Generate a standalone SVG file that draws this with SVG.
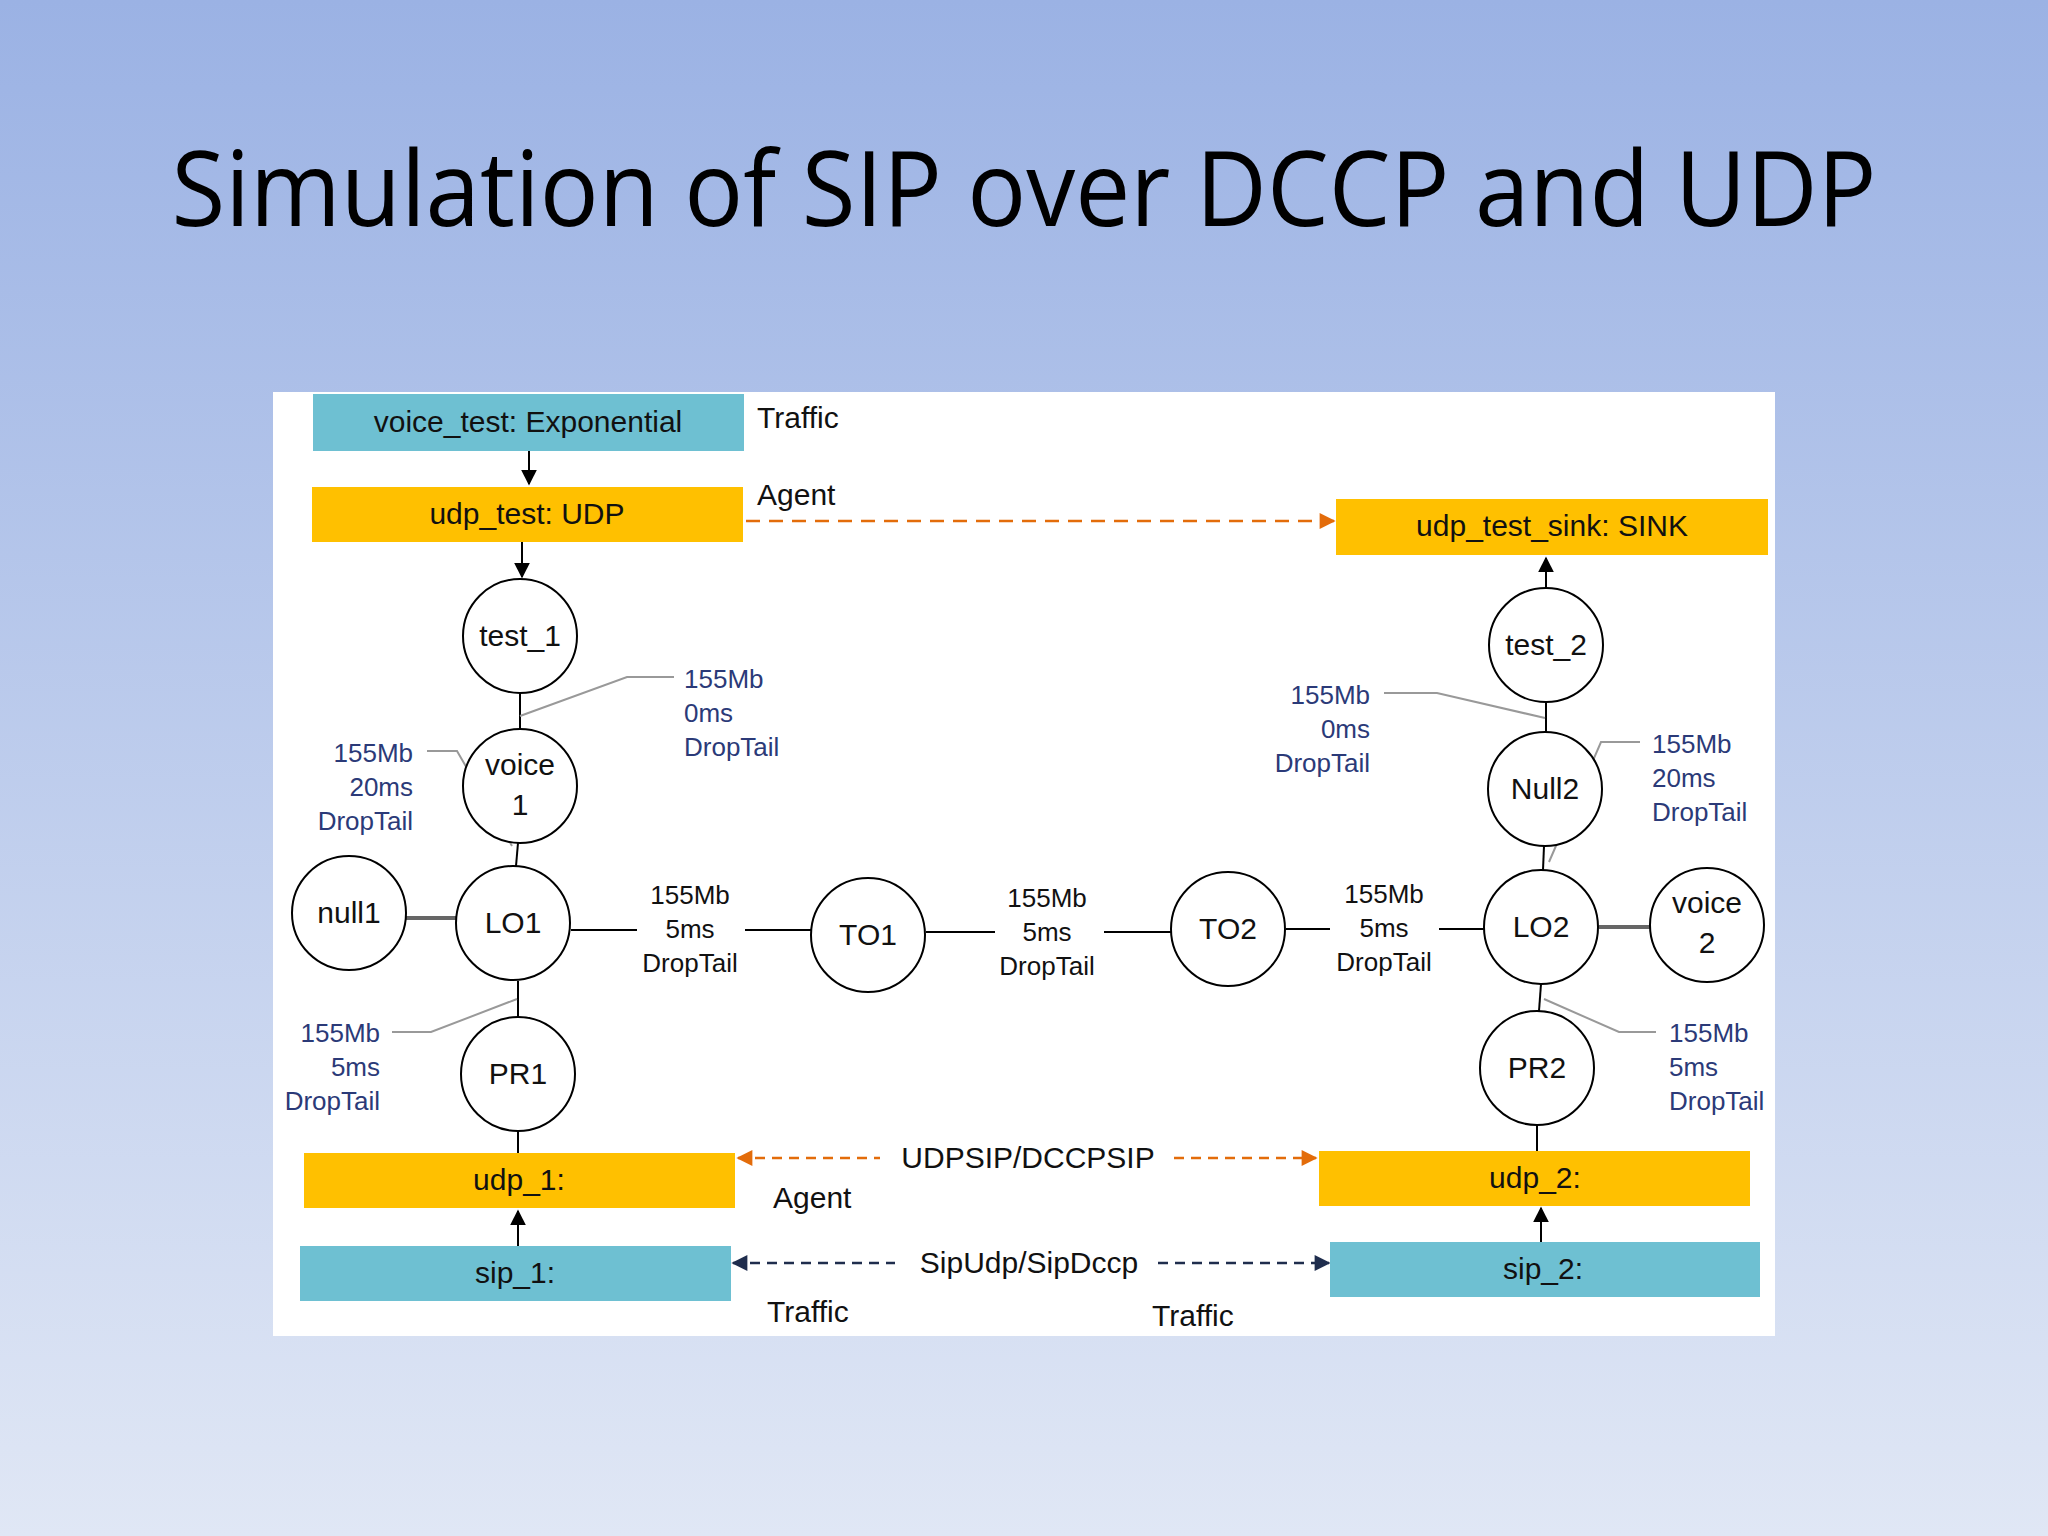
<svg xmlns="http://www.w3.org/2000/svg" width="2048" height="1536" viewBox="0 0 2048 1536">
<defs>
<linearGradient id="bg" x1="0" y1="0" x2="0" y2="1"><stop offset="0" stop-color="#9bb2e4"/><stop offset="1" stop-color="#e0e7f5"/></linearGradient>
<marker id="ab" viewBox="0 0 10 10" refX="9" refY="5" markerWidth="6" markerHeight="7" orient="auto-start-reverse" markerUnits="userSpaceOnUse" style="overflow:visible"><path d="M0,0 L10,5 L0,10 z" fill="#000" transform="scale(1.6)"/></marker>
<marker id="ao" viewBox="0 0 10 10" refX="9" refY="5" markerWidth="22" markerHeight="16" orient="auto-start-reverse" markerUnits="userSpaceOnUse"><path d="M0,0 L10,5 L0,10 z" fill="#e36c0a"/></marker>
<marker id="an" viewBox="0 0 10 10" refX="9" refY="5" markerWidth="22" markerHeight="16" orient="auto-start-reverse" markerUnits="userSpaceOnUse"><path d="M0,0 L10,5 L0,10 z" fill="#1f2d4d"/></marker>
<marker id="ak" viewBox="0 0 10 10" refX="9" refY="5" markerWidth="16" markerHeight="22" orient="auto-start-reverse" markerUnits="userSpaceOnUse"><path d="M0,0 L10,5 L0,10 z" fill="#000"/></marker>
</defs>
<style>
text{font-family:"Liberation Sans",Arial,sans-serif}
.n{fill:#fff;stroke:#000;stroke-width:2}
.nt{font-size:30px;text-anchor:middle;fill:#111}
.bt{font-size:30px;text-anchor:middle;fill:#111}
.lt{font-size:30px;fill:#111}
.bl{font-size:26px;fill:#2b3a78}
.r{text-anchor:end}
.m{text-anchor:middle;fill:#111}
.teal{fill:#6ec0d2}
.org{fill:#ffc000}
.ln{stroke:#000;stroke-width:2;fill:none}
.gl{stroke:#666;stroke-width:4;fill:none}
.ld{stroke:#999;stroke-width:2;fill:none}
</style>
<rect width="2048" height="1536" fill="url(#bg)"/>
<text x="1024" y="226" font-family="'Open Sans','Noto Sans',sans-serif" style="font-family:'Open Sans','Noto Sans',sans-serif" font-size="104" text-anchor="middle" fill="#000" textLength="1705" lengthAdjust="spacingAndGlyphs">Simulation of SIP over DCCP and UDP</text>
<rect x="273" y="392" width="1502" height="944" fill="#fff"/>

<g id="connectors">
<line class="ln" x1="529" y1="451" x2="529" y2="484" marker-end="url(#ak)"/>
<line class="ln" x1="522" y1="542" x2="522" y2="577" marker-end="url(#ak)"/>
<line class="ln" x1="1546" y1="588" x2="1546" y2="558" marker-end="url(#ak)"/>
<line class="ln" x1="518" y1="1246" x2="518" y2="1211" marker-end="url(#ak)"/>
<line class="ln" x1="1541" y1="1242" x2="1541" y2="1208" marker-end="url(#ak)"/>
<line x1="746" y1="521" x2="1334" y2="521" stroke="#e36c0a" stroke-width="2.5" stroke-dasharray="14,9" marker-end="url(#ao)"/>
<line x1="738" y1="1158" x2="880" y2="1158" stroke="#e36c0a" stroke-width="2.5" stroke-dasharray="10,7" marker-start="url(#ao)"/>
<line x1="1174" y1="1158" x2="1316" y2="1158" stroke="#e36c0a" stroke-width="2.5" stroke-dasharray="10,7" marker-end="url(#ao)"/>
<line x1="733" y1="1263" x2="895" y2="1263" stroke="#1f2d4d" stroke-width="2.5" stroke-dasharray="10,7" marker-start="url(#an)"/>
<line x1="1158" y1="1263" x2="1329" y2="1263" stroke="#1f2d4d" stroke-width="2.5" stroke-dasharray="10,7" marker-end="url(#an)"/>
<line class="ln" x1="520" y1="693" x2="520" y2="729"/>
<line class="ln" x1="518" y1="843" x2="516" y2="866"/>
<line class="gl" x1="406" y1="918" x2="456" y2="918"/>
<line class="ln" x1="571" y1="930" x2="637" y2="930"/>
<line class="ln" x1="745" y1="930" x2="811" y2="930"/>
<line class="ln" x1="926" y1="932" x2="995" y2="932"/>
<line class="ln" x1="1104" y1="932" x2="1171" y2="932"/>
<line class="ln" x1="1286" y1="929" x2="1330" y2="929"/>
<line class="ln" x1="1439" y1="929" x2="1484" y2="929"/>
<line class="gl" x1="1599" y1="927" x2="1650" y2="927"/>
<line class="ln" x1="1546" y1="703" x2="1546" y2="732"/>
<line class="ln" x1="1544" y1="846" x2="1543" y2="870"/>
<line class="ln" x1="1541" y1="984" x2="1539" y2="1011"/>
<line class="ln" x1="1537" y1="1126" x2="1537" y2="1151"/>
<line class="ln" x1="518" y1="981" x2="518" y2="1017"/>
<line class="ln" x1="518" y1="1132" x2="518" y2="1153"/>
<polyline class="ld" points="520,716 627,677 674,677"/>
<polyline class="ld" points="427,751 457,751 512,846"/>
<polyline class="ld" points="392,1032 431,1032 517,999"/>
<polyline class="ld" points="1384,693 1437,693 1545,718"/>
<polyline class="ld" points="1640,742 1601,742 1549,862"/>
<polyline class="ld" points="1656,1032 1619,1032 1544,999"/>
</g>

<g id="voice_test"><rect class="teal" x="313" y="394" width="431" height="57"/><text class="bt" x="528" y="432">voice_test: Exponential</text></g>
<g id="udp_test"><rect class="org" x="312" y="487" width="431" height="55"/><text class="bt" x="527" y="524">udp_test: UDP</text></g>
<g id="udp_test_sink"><rect class="org" x="1336" y="499" width="432" height="56"/><text class="bt" x="1552" y="536">udp_test_sink: SINK</text></g>
<g id="udp_1"><rect class="org" x="304" y="1153" width="431" height="55"/><text class="bt" x="519" y="1190">udp_1:</text></g>
<g id="udp_2"><rect class="org" x="1319" y="1151" width="431" height="55"/><text class="bt" x="1535" y="1188">udp_2:</text></g>
<g id="sip_1"><rect class="teal" x="300" y="1246" width="431" height="55"/><text class="bt" x="515" y="1283">sip_1:</text></g>
<g id="sip_2"><rect class="teal" x="1330" y="1242" width="430" height="55"/><text class="bt" x="1543" y="1279">sip_2:</text></g>

<g id="test_1"><circle class="n" cx="520" cy="636" r="57"/><text class="nt" x="520" y="646">test_1</text></g>
<g id="voice1"><circle class="n" cx="520" cy="786" r="57"/><text class="nt" x="520" y="775">voice</text><text class="nt" x="520" y="815">1</text></g>
<g id="null1"><circle class="n" cx="349" cy="913" r="57"/><text class="nt" x="349" y="923">null1</text></g>
<g id="LO1"><circle class="n" cx="513" cy="923" r="57"/><text class="nt" x="513" y="933">LO1</text></g>
<g id="PR1"><circle class="n" cx="518" cy="1074" r="57"/><text class="nt" x="518" y="1084">PR1</text></g>
<g id="TO1"><circle class="n" cx="868" cy="935" r="57"/><text class="nt" x="868" y="945">TO1</text></g>
<g id="TO2"><circle class="n" cx="1228" cy="929" r="57"/><text class="nt" x="1228" y="939">TO2</text></g>
<g id="LO2"><circle class="n" cx="1541" cy="927" r="57"/><text class="nt" x="1541" y="937">LO2</text></g>
<g id="voice2"><circle class="n" cx="1707" cy="925" r="57"/><text class="nt" x="1707" y="913">voice</text><text class="nt" x="1707" y="953">2</text></g>
<g id="test_2"><circle class="n" cx="1546" cy="645" r="57"/><text class="nt" x="1546" y="655">test_2</text></g>
<g id="Null2"><circle class="n" cx="1545" cy="789" r="57"/><text class="nt" x="1545" y="799">Null2</text></g>
<g id="PR2"><circle class="n" cx="1537" cy="1068" r="57"/><text class="nt" x="1537" y="1078">PR2</text></g>

<g id="labels">
<text class="lt" x="757" y="428">Traffic</text>
<text class="lt" x="757" y="505">Agent</text>
<text class="lt" x="773" y="1208">Agent</text>
<text class="lt" x="767" y="1322">Traffic</text>
<text class="lt" x="1152" y="1326">Traffic</text>
<text class="lt m" x="1028" y="1168">UDPSIP/DCCPSIP</text>
<text class="lt m" x="1029" y="1273">SipUdp/SipDccp</text>
<text class="bl" x="684" y="688">155Mb</text><text class="bl" x="684" y="722">0ms</text><text class="bl" x="684" y="756">DropTail</text>
<text class="bl r" x="413" y="762">155Mb</text><text class="bl r" x="413" y="796">20ms</text><text class="bl r" x="413" y="830">DropTail</text>
<text class="bl r" x="380" y="1042">155Mb</text><text class="bl r" x="380" y="1076">5ms</text><text class="bl r" x="380" y="1110">DropTail</text>
<text class="bl r" x="1370" y="704">155Mb</text><text class="bl r" x="1370" y="738">0ms</text><text class="bl r" x="1370" y="772">DropTail</text>
<text class="bl" x="1652" y="753">155Mb</text><text class="bl" x="1652" y="787">20ms</text><text class="bl" x="1652" y="821">DropTail</text>
<text class="bl" x="1669" y="1042">155Mb</text><text class="bl" x="1669" y="1076">5ms</text><text class="bl" x="1669" y="1110">DropTail</text>
<text class="bl m" x="690" y="904">155Mb</text><text class="bl m" x="690" y="938">5ms</text><text class="bl m" x="690" y="972">DropTail</text>
<text class="bl m" x="1047" y="907">155Mb</text><text class="bl m" x="1047" y="941">5ms</text><text class="bl m" x="1047" y="975">DropTail</text>
<text class="bl m" x="1384" y="903">155Mb</text><text class="bl m" x="1384" y="937">5ms</text><text class="bl m" x="1384" y="971">DropTail</text>
</g>
</svg>
